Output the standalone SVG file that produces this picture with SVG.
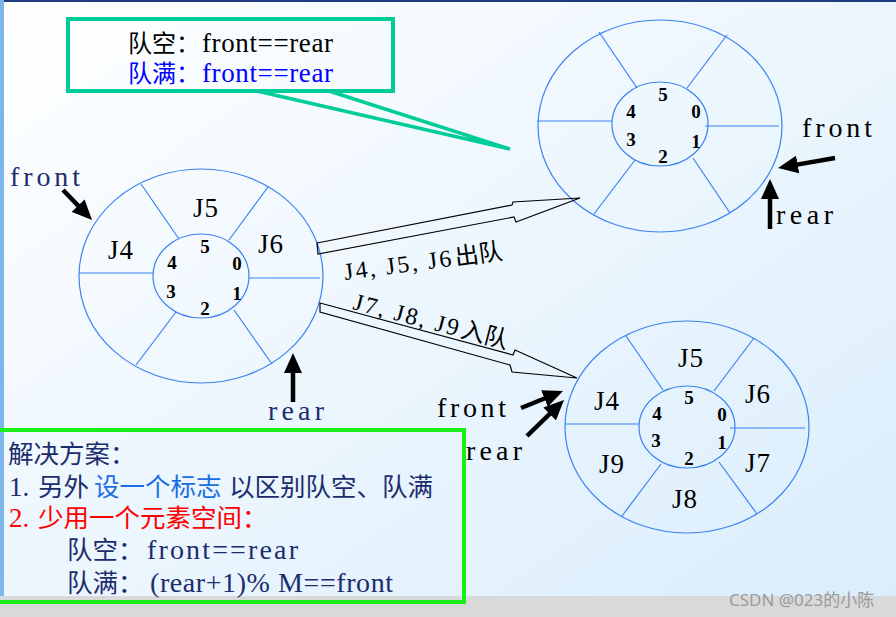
<svg xmlns="http://www.w3.org/2000/svg" width="896" height="617" viewBox="0 0 896 617">
<defs>
<linearGradient id="bg" x1="0" y1="0" x2="1" y2="1">
<stop offset="0" stop-color="#ffffff"/>
<stop offset="1" stop-color="#d9edfc"/>
</linearGradient>
<marker id="ah" markerUnits="userSpaceOnUse" markerWidth="20" markerHeight="18" refX="8" refY="9" orient="auto">
<path d="M0,0 L20,9 L0,18 z" fill="#000"/>
</marker>
<style>
.ring{fill:none;stroke:#3b82f0;stroke-width:1.2}
.spoke{stroke:#3b82f0;stroke-width:1.2}
.j{font-family:"Liberation Serif",serif;font-size:27px;fill:#000;text-anchor:middle;letter-spacing:1px}
.d{font-family:"Liberation Serif",serif;font-size:19px;font-weight:bold;fill:#000;text-anchor:middle}
.lbl{font-family:"Liberation Serif",serif;font-size:28px}
.ptr{stroke:#000;stroke-width:4.5;marker-end:url(#ah)}
.blk{fill:none;stroke:#000;stroke-width:1.2;stroke-linejoin:miter}
.cjk{font-family:"Noto Sans CJK SC",sans-serif}
.ser{font-family:"Liberation Serif",serif}
.al{font-family:"Liberation Serif","Noto Sans CJK SC",serif;font-size:24px;fill:#000}
</style>
</defs>

<rect x="0" y="0" width="896" height="617" fill="url(#bg)"/>
<rect x="0" y="0" width="896" height="2" fill="#1f3a7f"/>
<rect x="0" y="0" width="4" height="617" fill="#7db6e8"/>
<rect x="0" y="596" width="896" height="21" fill="#d9d9d9"/>

<g id="callout">
<rect x="68" y="19" width="325" height="72" fill="none" stroke="#00cc99" stroke-width="4"/>
<polyline points="257,91 510,149 329,91" fill="none" stroke="#00cc99" stroke-width="3.5" stroke-miterlimit="20"/>
<text class="cjk" x="128" y="52" font-size="24" fill="#000">队空：</text>
<text class="ser" x="202" y="52" font-size="27" fill="#000" textLength="131" lengthAdjust="spacing">front==rear</text>
<text class="cjk" x="128" y="82" font-size="24" fill="#0000ff">队满：</text>
<text class="ser" x="202" y="82" font-size="27" fill="#0000ff" textLength="131" lengthAdjust="spacing">front==rear</text>
</g>

<g id="ring-empty">
<ellipse class="ring" cx="660" cy="126" rx="122" ry="106"/>
<ellipse class="ring" cx="660" cy="124" rx="48" ry="42"/>
<line class="spoke" x1="537" y1="121" x2="612" y2="121"/>
<line class="spoke" x1="705" y1="126" x2="779" y2="126"/>
<line class="spoke" x1="599" y1="32" x2="637" y2="88"/>
<line class="spoke" x1="727" y1="35" x2="687" y2="88"/>
<line class="spoke" x1="635" y1="160" x2="594" y2="214"/>
<line class="spoke" x1="693" y1="158" x2="730" y2="213"/>
<text class="d" x="663" y="101">5</text>
<text class="d" x="631" y="118">4</text>
<text class="d" x="696" y="118">0</text>
<text class="d" x="631" y="146">3</text>
<text class="d" x="696" y="148">1</text>
<text class="d" x="663" y="163">2</text>
<text class="lbl" x="802" y="137" fill="#000" textLength="70" lengthAdjust="spacing">front</text>
<text class="lbl" x="776" y="224" fill="#000" textLength="57" lengthAdjust="spacing">rear</text>
</g>

<g id="ring-before">
<ellipse class="ring" cx="201" cy="276" rx="122" ry="107"/>
<ellipse class="ring" cx="201" cy="276" rx="48" ry="42"/>
<line class="spoke" x1="79" y1="273" x2="153" y2="273"/>
<line class="spoke" x1="249" y1="278" x2="320" y2="278"/>
<line class="spoke" x1="141" y1="184" x2="179" y2="239"/>
<line class="spoke" x1="268" y1="187" x2="229" y2="240"/>
<line class="spoke" x1="176" y1="312" x2="136" y2="365"/>
<line class="spoke" x1="234" y1="310" x2="272" y2="364"/>
<text class="j" x="121" y="259">J4</text>
<text class="j" x="206" y="217">J5</text>
<text class="j" x="271" y="253">J6</text>
<text class="d" x="205" y="253">5</text>
<text class="d" x="172" y="269">4</text>
<text class="d" x="237" y="270">0</text>
<text class="d" x="171" y="298">3</text>
<text class="d" x="237" y="300">1</text>
<text class="d" x="205" y="315">2</text>
<text class="lbl" x="10" y="186" fill="#1c2d6e" textLength="70" lengthAdjust="spacing">front</text>
<text class="lbl" x="268" y="420" fill="#1c2d6e" textLength="56" lengthAdjust="spacing">rear</text>
</g>

<g id="ring-full">
<ellipse class="ring" cx="687" cy="427" rx="122" ry="106"/>
<ellipse class="ring" cx="687" cy="427" rx="48" ry="41"/>
<line class="spoke" x1="565" y1="424" x2="639" y2="424"/>
<line class="spoke" x1="730" y1="428" x2="805" y2="428"/>
<line class="spoke" x1="626" y1="336" x2="663" y2="390"/>
<line class="spoke" x1="754" y1="338" x2="714" y2="391"/>
<line class="spoke" x1="661" y1="464" x2="622" y2="516"/>
<line class="spoke" x1="719" y1="462" x2="757" y2="514"/>
<text class="j" x="691" y="367">J5</text>
<text class="j" x="607" y="410">J4</text>
<text class="j" x="758" y="403">J6</text>
<text class="j" x="612" y="473">J9</text>
<text class="j" x="758" y="472">J7</text>
<text class="j" x="685" y="508">J8</text>
<text class="d" x="689" y="404">5</text>
<text class="d" x="657" y="420">4</text>
<text class="d" x="722" y="421">0</text>
<text class="d" x="656" y="447">3</text>
<text class="d" x="722" y="449">1</text>
<text class="d" x="689" y="465">2</text>
<text class="lbl" x="437" y="417" fill="#000" textLength="69" lengthAdjust="spacing">front</text>
<text class="lbl" x="466" y="460" fill="#000" textLength="56" lengthAdjust="spacing">rear</text>
</g>

<g id="connectors">
<polygon class="blk" points="317,243 512,205 513,202 580,198 516,222 514,217 318,254"/>
<polygon class="blk" points="320,303 513,355 515,350 577,378 512,372 510,365 320,312"/>
<line class="ptr" x1="63" y1="190" x2="83.7" y2="211.4"/>
<line class="ptr" x1="293" y1="402" x2="293" y2="365"/>
<line class="ptr" x1="835" y1="158" x2="789.8" y2="165.9"/>
<line class="ptr" x1="770" y1="229" x2="770" y2="191"/>
<line class="ptr" x1="521" y1="408" x2="551.9" y2="395.5"/>
<line class="ptr" x1="527" y1="436" x2="555.4" y2="408.4"/>
<g transform="rotate(-7.5 345 280)">
<text class="al" x="345" y="280" textLength="108" lengthAdjust="spacing">J4, J5, J6</text>
<text class="al" x="457" y="280"><tspan class="cjk">出队</tspan></text>
</g>
<g transform="rotate(14.5 352 309)">
<text class="al" x="352" y="309" textLength="108" lengthAdjust="spacing">J7, J8, J9</text>
<text class="al" x="463" y="309"><tspan class="cjk">入队</tspan></text>
</g>
</g>

<g id="solution">
<rect x="-5" y="430" width="469" height="172" fill="none" stroke="#19ee19" stroke-width="4"/>
<text x="8" y="463" fill="#1c2d6e" class="cjk" font-size="25.5">解决方案：</text>
<text class="ser" x="9" y="496" font-size="27" fill="#1c2d6e">1.</text>
<text y="496" font-size="25.5" class="cjk"><tspan x="38" fill="#1c2d6e">另外</tspan><tspan x="94" fill="#1a6ee6">设一个标志</tspan><tspan x="229" fill="#1c2d6e">以区别队空、队满</tspan></text>
<text class="ser" x="9" y="527" font-size="27" fill="#ff0000">2.</text>
<text class="cjk" x="38" y="527" font-size="25.5" fill="#ff0000">少用一个元素空间：</text>
<text class="cjk" x="67" y="559" font-size="25.5" fill="#1c2d6e">队空：</text>
<text class="ser" x="147" y="559" font-size="28" fill="#1c2d6e" textLength="151" lengthAdjust="spacing">front==rear</text>
<text class="cjk" x="67" y="592" font-size="25.5" fill="#1c2d6e">队满：</text>
<text class="ser" x="150" y="592" font-size="28" fill="#1c2d6e" textLength="243" lengthAdjust="spacing">(rear+1)% M==front</text>
</g>

<text x="729" y="606" font-family="'Noto Sans','Noto Sans CJK SC',sans-serif" font-size="17" fill="#9a9a9a">CSDN @023的小陈</text>
</svg>
